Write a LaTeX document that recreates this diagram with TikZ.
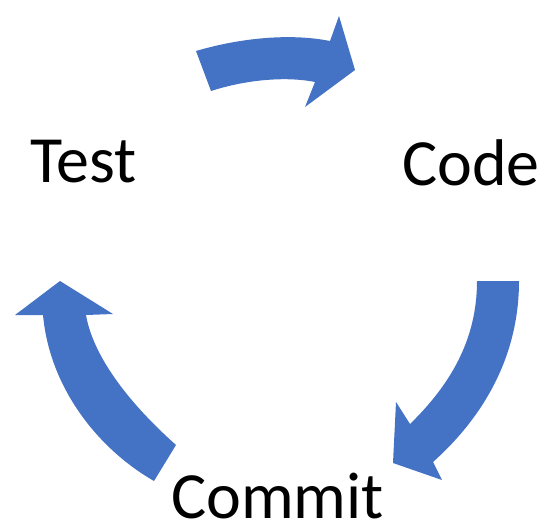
\documentclass[tikz,border=0pt]{standalone}
\usepackage{fontspec}
\setmainfont{Carlito}
\definecolor{arrowblue}{HTML}{4472C4}
\begin{document}
\begin{tikzpicture}[x=1pt,y=-1pt,
  blockarrow/.style={fill=arrowblue,draw=none},
  label/.style={font=\fontsize{66}{72}\selectfont,anchor=base west,inner sep=0pt}]
\useasboundingbox (0,0) rectangle (556,530);
% top arrow (Test -> Code)
\path[blockarrow] (196,51) .. controls (240,38) and (290,33) .. (330,41)
  -- (339,16) -- (355,70) -- (305,107) -- (315,82)
  .. controls (285,76) and (245,80) .. (211,91) -- cycle;
% right arrow (Code -> Commit)
\path[blockarrow] (477,281) -- (519,281) .. controls (519,360) and (480,420) .. (433,462)
  -- (442,480) -- (393,463) -- (396,402) -- (410,424)
  .. controls (450,385) and (477,340) .. (477,281) -- cycle;
% left arrow (Commit -> Test)
\path[blockarrow] (154,481) -- (176,445) .. controls (120,395) and (92,350) .. (86,315)
  -- (113,314) -- (60,281) -- (15,315) -- (43,315)
  .. controls (50,390) and (100,450) .. (154,481) -- cycle;
\node[label] (test) at (30,182) {Test};
\node[label] (code) at (402,185) {Code};
\node[label] (commit) at (171,518) {Commit};
\end{tikzpicture}
\end{document}
